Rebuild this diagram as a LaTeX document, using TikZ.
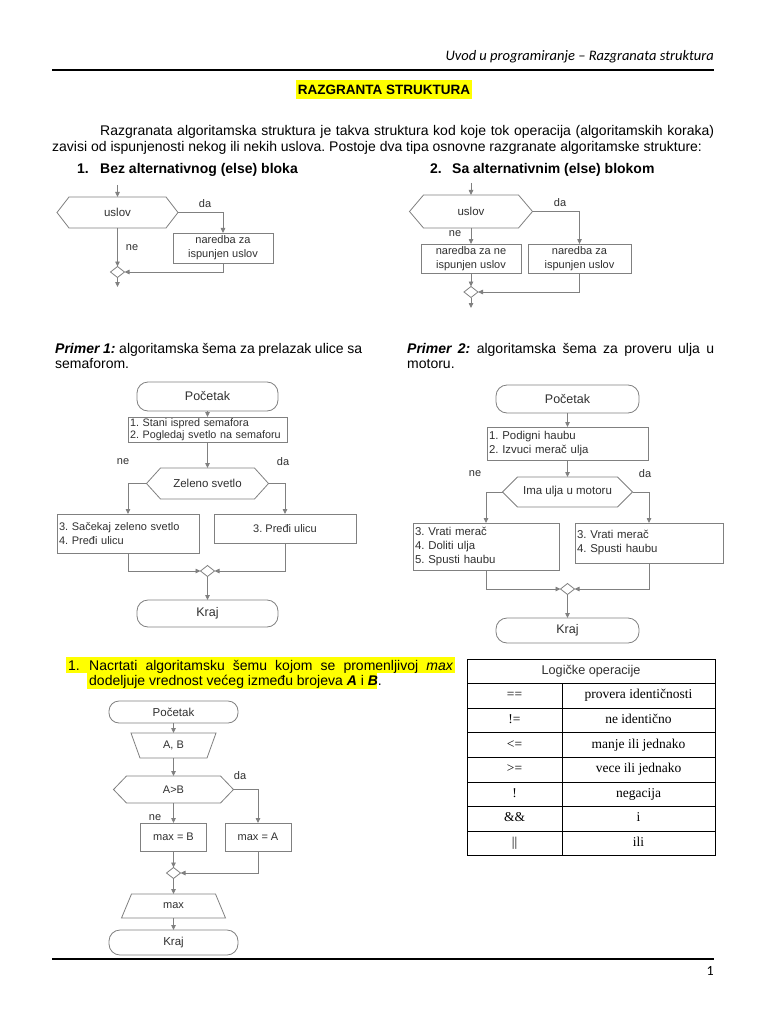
\documentclass[tikz,border=0pt]{standalone}
\usepackage{fontspec}
\setmainfont{Liberation Sans}
\newfontfamily\calfont{Carlito}
\newfontfamily\serfont{Liberation Serif}
\usetikzlibrary{arrows.meta,shapes.geometric}
\definecolor{lc}{HTML}{808080}
\definecolor{tc}{HTML}{303030}
\definecolor{hl}{HTML}{FFFF00}
\newcommand\hexshape[2]{\draw[ln] ([xshift=#2]#1.north west) -- ([xshift=-#2]#1.north east) -- (#1.east) -- ([xshift=-#2]#1.south east) -- ([xshift=#2]#1.south west) -- (#1.west) -- cycle;}
\newcommand\trapin[2]{\draw[ln] (#1.north west) -- (#1.north east) -- ([xshift=-#2]#1.south east) -- ([xshift=#2]#1.south west) -- cycle;}
\newcommand\trapout[2]{\draw[ln] ([xshift=#2]#1.north west) -- ([xshift=-#2]#1.north east) -- (#1.south east) -- (#1.south west) -- cycle;}
\begin{document}
\frenchspacing
\begin{tikzpicture}[x=1pt,y=-1pt,
  ln/.style={draw=lc, line width=0.8pt},
  arr/.style={draw=lc, line width=0.8pt, -{Triangle[length=5pt,width=4.5pt]}},
  ftxt/.style={text=tc, font=\fontsize{11}{14}\selectfont},
  box/.style={ftxt, draw=lc, line width=0.8pt, rectangle, inner sep=2pt, outer sep=0pt},
  term/.style={box, rounded corners=11pt, font=\fontsize{12.5}{15}\selectfont},
  blank/.style={ftxt, rectangle, inner sep=0pt, outer sep=0pt, font=\fontsize{11.5}{14}\selectfont},
  merge/.style={diamond, draw=lc, line width=0.8pt, minimum width=14pt, minimum height=11pt, inner sep=0pt, outer sep=0pt},
  lbl/.style={ftxt, inner sep=0pt},
  body/.style={font=\fontsize{14}{16}\selectfont, inner sep=0pt, anchor=base west},
  hd/.style={font=\bfseries\fontsize{14}{16}\selectfont, inner sep=0pt, anchor=base west},
  tcell/.style={draw=black, line width=0.8pt, inner sep=0pt, outer sep=0pt, minimum height=24.6pt, text height=9pt, text depth=3pt, font=\serfont\fontsize{13.5}{16}\selectfont},
]
\useasboundingbox[fill=white] (0,0) rectangle (768,1024);

% header
\node[anchor=base east, inner sep=0pt, font=\calfont\itshape\fontsize{14.5}{17}\selectfont] (hdr) at (714,61) {Uvod u programiranje – Razgranata struktura};
\draw[line width=1.3pt] (52,70) -- (714,70);

% title
\fill[hl] (296,80) rectangle (472,99);
\node[inner sep=0pt, font=\bfseries\fontsize{13.5}{16}\selectfont] (title) at (384,89.5) {RAZGRANTA STRUKTURA};

% paragraph
\node[body] (par1) at (100,135.5) {\makebox[614pt][s]{Razgranata algoritamska struktura je takva struktura kod koje tok operacija (algoritamskih koraka)}};
\node[body] (par2) at (52,151.5) {zavisi od ispunjenosti nekog ili nekih uslova. Postoje dva tipa osnovne razgranate algoritamske strukture:};

% headings
\node[hd] (h1n) at (77,174) {1.};
\node[hd] (h1) at (100,174) {Bez alternativnog (else) bloka};
\node[hd] (h2n) at (430,174) {2.};
\node[hd] (h2) at (452,174) {Sa alternativnim (else) blokom};

% flowchart 1
\coordinate (s1) at (117.5,185);
\node[blank, minimum width=121pt, minimum height=31pt] (u1) at (117.5,212.5) {uslov};
\hexshape{u1}{12pt}
\node[box, minimum width=100pt, minimum height=30pt, align=center] (b1) at (223,248) {naredba za\\ispunjen uslov};
\node[merge] (m1) at (117.5,272) {};
\coordinate (e1) at (117.5,287);
\node[lbl] (da1) at (205,204) {da};
\node[lbl] (ne1) at (132,248) {ne};
\draw[arr] (s1) -- (u1.north);
\draw[arr] (u1.east) -| (b1.north);
\draw[arr] (u1.south) -- (m1.north);
\draw[arr] (b1.south) |- (m1.east);
\draw[arr] (m1.south) -- (e1);

% flowchart 2
\coordinate (s2) at (471,183);
\node[blank, minimum width=123pt, minimum height=33pt] (u2) at (471,211.5) {uslov};
\hexshape{u2}{14pt}
\node[box, minimum width=100pt, minimum height=29pt, align=center] (b2l) at (471,258.5) {naredba za ne\\ispunjen uslov};
\node[box, minimum width=103pt, minimum height=29pt, align=center] (b2r) at (579.5,258.5) {naredba za\\ispunjen uslov};
\node[merge] (m2) at (471,292) {};
\coordinate (e2) at (471,308);
\node[lbl] (da2) at (560,203) {da};
\node[lbl] (ne2) at (455,234) {ne};
\draw[arr] (s2) -- (u2.north);
\draw[arr] (u2.east) -| (b2r.north);
\draw[arr] (u2.south) -- (b2l.north);
\draw[arr] (b2l.south) -- (m2.north);
\draw[arr] (b2r.south) |- (m2.east);
\draw[arr] (m2.south) -- (e2);

% primer 1 text
\node[body] (pr1a) at (55,353) {\makebox[307pt][s]{\textbf{\textit{Primer 1:}} algoritamska šema za prelazak ulice sa}};
\node[body] (pr1b) at (55,368) {semaforom.};

% primer 2 text
\node[body] (pr2a) at (407,353) {\makebox[307pt][s]{\textbf{\textit{Primer 2:}} algoritamska šema za proveru ulja u}};
\node[body] (pr2b) at (407,368) {motoru.};

% primer 1 flowchart
\node[term, minimum width=141pt, minimum height=29pt] (t1) at (207.5,396.5) {Početak};
\node[box, text width=155pt, minimum height=25pt, inner ysep=1pt, align=left, font=\fontsize{10.8}{12.5}\selectfont] (p1b) at (207.5,429.5) {1. Stani ispred semafora\\2. Pogledaj svetlo na semaforu};
\node[blank, minimum width=122pt, minimum height=31pt] (z1) at (207.5,483.5) {Zeleno svetlo};
\hexshape{z1}{14pt}
\node[lbl] (ne3) at (123,462) {ne};
\node[lbl] (da3) at (283,462) {da};
\node[box, text width=138pt, minimum height=39pt, align=left] (l1) at (128,533.5) {3. Sačekaj zeleno svetlo\\4. Pređi ulicu};
\node[box, minimum width=142pt, minimum height=29pt] (r1) at (285,528.5) {3. Pređi ulicu};
\node[merge] (m3) at (207.5,571) {};
\node[term, minimum width=141pt, minimum height=27pt] (k1) at (207.5,613.5) {Kraj};
\draw[arr] (t1.south) -- (p1b.north);
\draw[arr] (p1b.south) -- (z1.north);
\draw[arr] (z1.west) -| (l1.north);
\draw[arr] (z1.east) -| (r1.north);
\draw[arr] (l1.south) |- (m3.west);
\draw[arr] (r1.south) |- (m3.east);
\draw[arr] (m3.south) -- (k1.north);

% primer 2 flowchart
\node[term, minimum width=143pt, minimum height=28pt] (t2) at (567.5,399) {Početak};
\node[box, text width=157pt, minimum height=33pt, align=left, font=\fontsize{11.4}{13.5}\selectfont] (p2b) at (567.5,443.5) {1. Podigni haubu\\2. Izvuci merač ulja};
\node[blank, minimum width=130pt, minimum height=30pt] (z2) at (567.5,492) {Ima ulja u motoru};
\hexshape{z2}{15pt}
\node[lbl] (ne4) at (475,474) {ne};
\node[lbl] (da4) at (645,474) {da};
\node[box, text width=142pt, minimum height=47pt, align=left, font=\fontsize{11.4}{14}\selectfont] (l2) at (486,546.5) {3. Vrati merač\\4. Doliti ulja\\5. Spusti haubu};
\node[box, text width=144pt, minimum height=40pt, align=left, font=\fontsize{11.4}{14}\selectfont] (r2) at (649,543) {3. Vrati merač\\4. Spusti haubu};
\node[merge] (m4) at (567.5,589) {};
\node[term, minimum width=143pt, minimum height=25pt] (k2) at (567.5,630.5) {Kraj};
\draw[arr] (t2.south) -- (p2b.north);
\draw[arr] (p2b.south) -- (z2.north);
\draw[arr] (z2.west) -| (l2.north);
\draw[arr] (z2.east) -| (r2.north);
\draw[arr] (l2.south) |- (m4.west);
\draw[arr] (r2.south) |- (m4.east);
\draw[arr] (m4.south) -- (k2.north);

% task text
\fill[hl] (66,657) rectangle (455,673);
\fill[hl] (87,673) rectangle (377,689);
\node[body] (tk1n) at (68,670) {1.};
\node[body] (tk1) at (89,670) {\makebox[364pt][s]{Nacrtati algoritamsku šemu kojom se promenljivoj \textit{max}}};
\node[body] (tk2) at (89,685) {dodeljuje vrednost većeg između brojeva \textbf{\textit{A}} i \textbf{\textit{B}}.};

% task flowchart
\node[term, rounded corners=10pt, minimum width=129pt, minimum height=22pt, font=\fontsize{11.5}{14}\selectfont] (t3) at (173.5,712) {Početak};
\node[blank, minimum width=85pt, minimum height=25pt, font=\fontsize{11}{14}\selectfont] (ab) at (173.5,745.5) {A, B};
\trapin{ab}{9pt}
\node[blank, minimum width=120pt, minimum height=27pt, font=\fontsize{11}{14}\selectfont] (h3) at (173.5,789.5) {A>B};
\hexshape{h3}{13pt}
\node[lbl] (da5) at (240,776) {da};
\node[lbl] (ne5) at (155,818) {ne};
\node[box, minimum width=66pt, minimum height=28pt] (mb) at (173.5,837) {max = B};
\node[box, minimum width=66pt, minimum height=28pt] (ma) at (258,837) {max = A};
\node[merge] (m5) at (173.5,873) {};
\node[blank, minimum width=104pt, minimum height=24pt, font=\fontsize{11}{14}\selectfont] (mx) at (173.5,906) {max};
\trapout{mx}{10pt}
\node[term, rounded corners=11pt, minimum width=129pt, minimum height=25pt, font=\fontsize{11.5}{14}\selectfont] (k3) at (173.5,942.5) {Kraj};
\draw[arr] (t3.south) -- (ab.north);
\draw[arr] (ab.south) -- (h3.north);
\draw[arr] (h3.east) -| (ma.north);
\draw[arr] (h3.south) -- (mb.north);
\draw[arr] (mb.south) -- (m5.north);
\draw[arr] (ma.south) |- (m5.east);
\draw[arr] (m5.south) -- (mx.north);
\draw[arr] (mx.south) -- (k3.north);

% table
\node[tcell, minimum width=248pt, font=\fontsize{12.7}{15}\selectfont, text=tc] (th) at (591,671.3) {Logičke operacije};
\foreach \a/\b [count=\i] in {{==}/{provera identičnosti}, {!=}/{ne identično}, {<=}/{manje ili jednako}, {>=}/{vece ili jednako}, {!}/{negacija}, {\&\&}/{i}, {||}/{ili}} {
  \node[tcell, minimum width=95pt] (L\i) at (514.5,{659+24.6*(\i+0.5)}) {\a};
  \node[tcell, minimum width=153pt] (R\i) at (638.5,{659+24.6*(\i+0.5)}) {\b};
}

% footer
\draw[line width=1.3pt] (52,959) -- (714,959);
\node[anchor=base east, inner sep=0pt, font=\calfont\fontsize{14}{16}\selectfont] (pg) at (714,975) {1};
\end{tikzpicture}
\end{document}
